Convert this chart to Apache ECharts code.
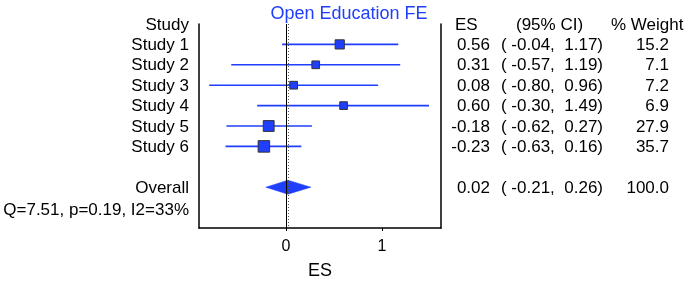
<!DOCTYPE html>
<html>
<head>
<meta charset="utf-8">
<script src="https://cdn.jsdelivr.net/npm/echarts@6/dist/echarts.min.js"></script>
<style>
html, body { margin: 0; padding: 0; background: #fff; }
#forest { width: 685px; height: 281px; }
</style>
</head>
<body>
<div id="forest"></div>
<script>
const studies = ['Study 1', 'Study 2', 'Study 3', 'Study 4', 'Study 5', 'Study 6'];
const es = [0.56, 0.31, 0.08, 0.60, -0.18, -0.23];
const ciLow = [-0.04, -0.57, -0.80, -0.30, -0.62, -0.63];
const ciHigh = [1.17, 1.19, 0.96, 1.49, 0.27, 0.16];
const weights = [15.2, 7.1, 7.2, 6.9, 27.9, 35.7];
const overallLabel = 'Overall';
const overallEs = 0.02;
const overallLow = -0.21;
const overallHigh = 0.26;
const overallWeight = 100.0;
const heterogeneity = 'Q=7.51, p=0.19, I2=33%';
const headers = ['Study', 'ES', '(95% CI)', '% Weight'];
const xTicks = [0, 1];

const BLUE = '#1f3ffd';
const FONT = 'Liberation Sans, Arial, sans-serif';

// row positions on the y axis (0 = header)
const studyRows = studies.map((s, i) => i + 1);
const overallRow = 8;
const hetRow = 9.1;

const fmt = v => v.toFixed(2);
const ciText = (lo, hi) => '(' + fmt(lo).padStart(6, ' ') + ',' + fmt(hi).padStart(6, ' ') + ')';
const markSize = w => Math.min(11.5, 4.5 + Math.sqrt(w) * 1.2);

// text rows: [row, label, es, ci, weight, isHeader]
const textRows = [[0, headers[0], null, null, null, true]];
studies.forEach((s, i) => {
	textRows.push([studyRows[i], s, fmt(es[i]), ciText(ciLow[i], ciHigh[i]), weights[i].toFixed(1)]);
});
textRows.push([overallRow, overallLabel, fmt(overallEs), ciText(overallLow, overallHigh), overallWeight.toFixed(1)]);
textRows.push([hetRow, heterogeneity, null, null, null]);

const txt = (x, y, text, align) => ({
	type: 'text',
	x: x,
	y: y,
	style: { text: text, align: align, verticalAlign: 'middle', fill: '#000', font: '17px ' + FONT }
});

const chartDom = document.getElementById('forest');
const myChart = echarts.init(chartDom, null, { renderer: 'canvas', devicePixelRatio: 1 });

const option = {
	animation: false,
	title: {
		text: 'Open Education FE',
		left: 344,
		textAlign: 'center',
		top: 0,
		textStyle: { color: BLUE, fontSize: 18, fontWeight: 'normal', fontFamily: FONT }
	},
	grid: { left: 199, right: 244, top: 24, bottom: 53, containLabel: false, outerBoundsMode: 'none' },
	xAxis: {
		type: 'value',
		position: 'bottom',
		min: -0.906,
		max: 1.615,
		name: 'ES',
		nameLocation: 'middle',
		nameGap: 34,
		nameTextStyle: { color: '#000', fontSize: 18, fontFamily: FONT },
		axisLine: { show: true, onZero: false, lineStyle: { color: '#000', width: 1.5 } },
		axisTick: { show: true, length: 3, customValues: xTicks, lineStyle: { color: '#000' } },
		axisLabel: { customValues: xTicks, color: '#000', fontSize: 16, fontFamily: FONT, margin: 11 },
		splitLine: { show: false }
	},
	yAxis: [
		{
			type: 'value', min: 0, max: 10, inverse: true, position: 'left',
			axisLine: { show: true, onZero: false, lineStyle: { color: '#000', width: 1.5 } },
			axisTick: { show: false }, axisLabel: { show: false }, splitLine: { show: false }
		},
		{
			type: 'value', min: 0, max: 10, inverse: true, position: 'right',
			axisLine: { show: true, onZero: false, lineStyle: { color: '#000', width: 1.5 } },
			axisTick: { show: false }, axisLabel: { show: false }, splitLine: { show: false }
		}
	],
	series: [
		{
			// confidence interval lines
			type: 'custom',
			data: studies.map((s, i) => [ciLow[i], ciHigh[i], studyRows[i]]),
			renderItem: (params, api) => {
				const a = api.coord([api.value(0), api.value(2)]);
				const b = api.coord([api.value(1), api.value(2)]);
				return {
					type: 'line',
					shape: { x1: a[0], y1: a[1], x2: b[0], y2: b[1] },
					style: { stroke: BLUE, lineWidth: 1.6 }
				};
			},
			markLine: {
				silent: true,
				symbol: 'none',
				label: { show: false },
				data: [
					{ xAxis: 0, lineStyle: { color: '#000', width: 1, type: 'solid' } },
					{ xAxis: overallEs, lineStyle: { color: '#555', width: 1, type: [1, 2] } }
				]
			}
		},
		{
			// point estimates
			type: 'scatter',
			symbol: 'rect',
			data: studies.map((s, i) => [es[i], studyRows[i], weights[i]]),
			symbolSize: d => markSize(d[2]),
			itemStyle: { color: BLUE, borderColor: '#333', borderWidth: 1, opacity: 1 },
			z: 3
		},
		{
			// overall diamond
			type: 'custom',
			data: [[overallLow, overallEs, overallHigh, overallRow]],
			renderItem: (params, api) => {
				const l = api.coord([api.value(0), api.value(3)]);
				const c = api.coord([api.value(1), api.value(3)]);
				const r = api.coord([api.value(2), api.value(3)]);
				const h = 7;
				return {
					type: 'polygon',
					shape: { points: [[l[0], l[1]], [c[0], c[1] - h], [r[0], r[1]], [c[0], c[1] + h]] },
					style: { fill: BLUE, stroke: BLUE, lineWidth: 0.5 }
				};
			},
			z: 3
		},
		{
			// text columns
			type: 'custom',
			clip: false,
			silent: true,
			data: textRows.map(r => [0, r[0]]),
			renderItem: (params, api) => {
				const r = textRows[params.dataIndex];
				const y = api.coord([0, api.value(1)])[1] + 1;
				const children = [txt(189, y, r[1], 'right')];
				if (r[5]) {
					children.push(txt(455, y, headers[1], 'left'));
					children.push(txt(516, y, headers[2], 'left'));
					children.push(txt(611, y, headers[3], 'left'));
				} else if (r[2] !== null) {
					children.push(txt(490, y, r[2], 'right'));
					children.push(txt(603, y, r[3], 'right'));
					children.push(txt(669, y, r[4], 'right'));
				}
				return { type: 'group', children: children };
			}
		}
	]
};

option && myChart.setOption(option);
</script>
</body>
</html>
